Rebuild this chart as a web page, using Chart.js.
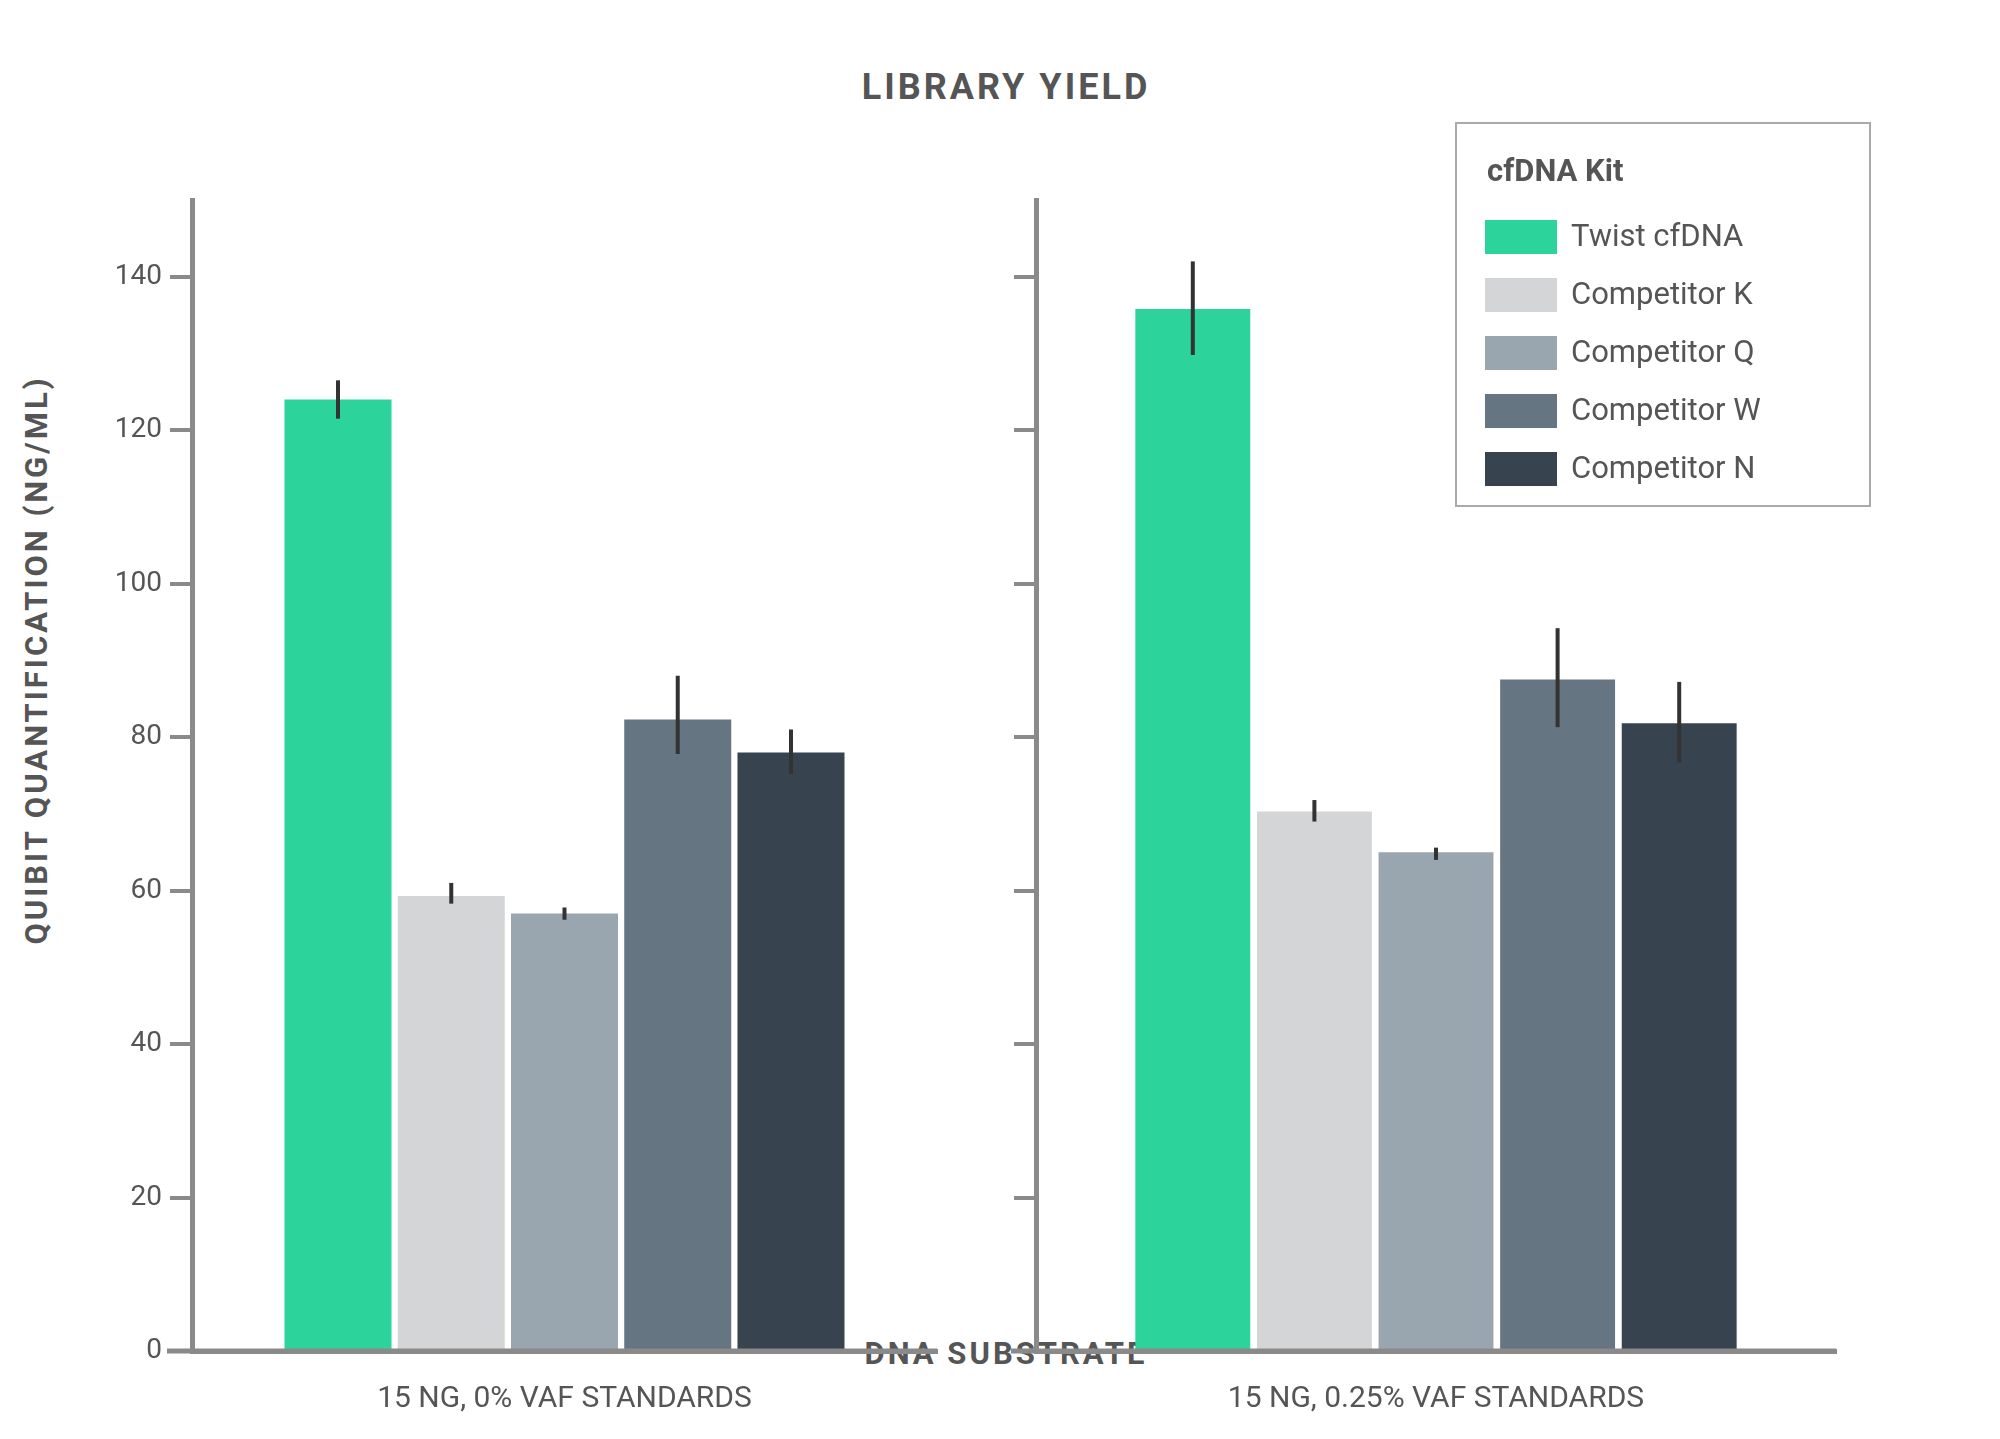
<!DOCTYPE html>
<html><head><meta charset="utf-8">
<script src="https://cdn.jsdelivr.net/npm/chart.js@4"></script>
<style>
body{margin:0;width:2000px;height:1439px;background:#fff;position:relative;font-family:Roboto,"DejaVu Sans",sans-serif;color:#555}
.t{position:absolute;font-weight:bold;letter-spacing:3px;color:#555;white-space:nowrap}
canvas{position:absolute}
#legend{position:absolute;left:1455px;top:122px;width:416px;height:385px;border:2px solid #aaa;box-sizing:border-box}
#legend .h{position:absolute;left:30px;top:28px;font-size:31px;font-weight:bold;color:#555}
.row{position:absolute;left:28px;height:34px;font-size:31px;color:#555}
.sw{position:absolute;left:0;top:0;width:72px;height:34px}
.lb{position:absolute;left:86px;top:-3px;white-space:nowrap}
</style></head><body>
<div class="t" style="left:0;width:2012px;text-align:center;top:66px;font-size:36px">LIBRARY YIELD</div>
<div class="t" style="left:0;width:2012px;text-align:center;top:1335px;font-size:31px">DNA SUBSTRATE</div>
<div class="t" style="left:36px;top:660px;font-size:31px;transform:translate(-50%,-50%) rotate(-90deg)">QUIBIT QUANTIFICATION (NG/ML)</div>
<canvas id="c1" style="left:0;top:0" width="960" height="1439"></canvas>
<canvas id="c2" style="left:980px;top:0" width="1000" height="1439"></canvas>
<div id="legend"><div class="h">cfDNA Kit</div></div>
<script>
const series = ['Twist cfDNA','Competitor K','Competitor Q','Competitor W','Competitor N'];
const colors = ['#2cd49b','#d3d5d7','#9aa6af','#667582','#37444f'];
const groups = ['15 NG, 0% VAF STANDARDS','15 NG, 0.25% VAF STANDARDS'];
const values = [[124,59.3,57,82.3,78],[135.8,70.3,65,87.5,81.8]];
const errLow = [[121.5,58.3,56.2,77.8,75.2],[129.8,69,64,81.3,76.7]];
const errHigh = [[126.5,61,57.8,88,81],[142,71.8,65.6,94.2,87.2]];
const yTicks = [0,20,40,60,80,100,120,140];

const leg=document.getElementById('legend');
series.forEach((s,i)=>{const r=document.createElement('div');r.className='row';r.style.top=(96+i*58)+'px';
r.innerHTML='<div class="sw" style="background:'+colors[i]+'"></div><div class="lb">'+s+'</div>';leg.appendChild(r);});

function make(id,g,showLabels,yW,padR){
  const errPlugin={id:'err',afterDatasetsDraw(ch){const c=ch.ctx,y=ch.scales.y;
    ch.data.datasets.forEach((d,i)=>{const el=ch.getDatasetMeta(i).data[0];
      c.save();c.strokeStyle='#333';c.lineWidth=4;c.beginPath();
      c.moveTo(el.x,y.getPixelForValue(errLow[g][i]));c.lineTo(el.x,y.getPixelForValue(errHigh[g][i]));c.stroke();c.restore();});
    const xa=ch.chartArea;c.save();c.strokeStyle='#8a8a8a';c.lineWidth=5;c.beginPath();
    c.moveTo(xa.left-25,xa.bottom);c.lineTo(xa.right,xa.bottom);c.stroke();c.restore();}};
  new Chart(document.getElementById(id),{type:'bar',
    data:{labels:[groups[g]],datasets:series.map((s,i)=>({label:s,data:[values[g][i]],backgroundColor:colors[i],categoryPercentage:0.76,barPercentage:0.945}))},
    options:{responsive:false,animation:false,
      layout:{padding:{top:200,right:padR,bottom:0,left:0}},
      plugins:{legend:{display:false},tooltip:{enabled:false}},
      scales:{
        x:{grid:{display:false},border:{color:'#8a8a8a',width:5},ticks:{color:'#555',font:{size:30,family:'Roboto'},padding:22}},
        y:{min:0,max:150,afterBuildTicks:a=>{a.ticks=yTicks.map(v=>({value:v}));},
          afterFit:s=>{s.width=yW;},
          grid:{drawOnChartArea:false,color:'#8a8a8a',lineWidth:4,tickLength:22},
          border:{color:'#8a8a8a',width:5},
          ticks:{display:true,color:showLabels?'#555':'rgba(0,0,0,0)',font:{size:28,family:'Roboto'},padding:8}}
      }},
    plugins:[errPlugin]});
}
make('c1',0,true,192,23);
make('c2',1,false,56,144);
</script></body></html>
